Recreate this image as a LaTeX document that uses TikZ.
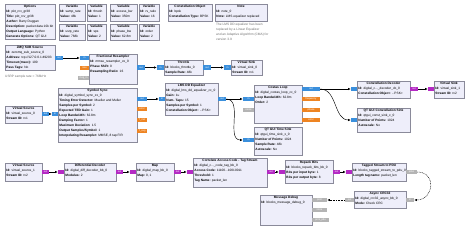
\documentclass[tikz,border=0pt]{standalone}
\usepackage{fontspec}
\setmainfont{Liberation Sans}
\usetikzlibrary{arrows.meta}
\definecolor{blkfill}{HTML}{EEEEFA}
\definecolor{blkdraw}{HTML}{8A8A9A}
\definecolor{cplx}{HTML}{3A8FDC}
\definecolor{flt}{HTML}{EE8422}
\definecolor{byt}{HTML}{B42AC4}
\definecolor{msgc}{HTML}{B4B4B4}
\definecolor{notec}{HTML}{707070}
\newcommand\blockfont{\fontsize{3.2}{5.0}\selectfont}
\newcommand\kv[2]{\textbf{#1:} #2}
\tikzset{
 blk/.style={draw=blkdraw, fill=blkfill, line width=0.5pt, inner sep=0pt},
 ttl/.style={font=\blockfont\bfseries, inner sep=0pt, anchor=north},
 bdy/.style={font=\blockfont, inner sep=0pt, anchor=north west, align=left},
 port/.style={draw=none, minimum height=4.6pt, inner sep=0pt, font=\fontsize{2.5}{3}\selectfont, text=white},
 wire/.style={-{Latex[length=2.6pt,width=2.2pt]}, line width=0.45pt, black},
 mwire/.style={wire, dash pattern=on 0.8pt off 0.8pt},
}
\newcommand\grb[7]{%
 \node[blk, minimum width=#4pt, minimum height=#5pt] (#1) at ({#2+#4/2},{#3+#5/2}) {};
 \node[ttl] (#1t) at ([yshift=-1.6pt]#1.north) {#6};
 \node[bdy] (#1b) at ([xshift=1.5pt,yshift=-1.5pt]#1.west |- #1t.south) {#7};
}
\newcommand\gp[6]{\node[port, fill=#5, minimum width=#4pt] (#1) at ({#2+#4/2},#3) {#6};}
\begin{document}
\begin{tikzpicture}[x=1pt,y=-1pt]
\useasboundingbox[fill=white] (0,0) rectangle (474,228);
% options and variables
\grb{opt}{5}{4}{50}{35}{Options}{\kv{Id}{pkt\_rcv\_gr38}\\\kv{Title}{pkt\_rcv\_gr38}\\\kv{Author}{Barry Duggan}\\\kv{Description}{packet data 10k bit}\\\kv{Output Language}{Python}\\\kv{Generate Options}{QT GUI}}
\grb{v1}{59}{4}{26}{17}{Variable}{\kv{Id}{samp\_rate}\\\kv{Value}{48k}}
\grb{v2}{87}{4}{19}{17}{Variable}{\kv{Id}{thresh}\\\kv{Value}{1}}
\grb{v3}{110}{4}{27}{17}{Variable}{\kv{Id}{excess\_bw}\\\kv{Value}{350m}}
\grb{v4}{139}{4}{20}{17}{Variable}{\kv{Id}{rs\_ratio}\\\kv{Value}{16}}
\grb{v5}{59}{24}{26}{16}{Variable}{\kv{Id}{usrp\_rate}\\\kv{Value}{768k}}
\grb{v6}{87}{24}{19}{16}{Variable}{\kv{Id}{sps}\\\kv{Value}{2}}
\grb{v7}{110}{24}{27}{16}{Variable}{\kv{Id}{phase\_bw}\\\kv{Value}{62.8m}}
\grb{v8}{139}{24}{20}{16}{Variable}{\kv{Id}{order}\\\kv{Value}{2}}
\grb{cobj}{168}{4}{44}{17}{Constellation Object}{\kv{Id}{bpsk}\\\kv{Constellation Type}{BPSK}}
\grb{note}{215}{4}{52}{17}{Note}{\kv{Id}{note\_0}\\\kv{Note}{LMS equalizer replaced}}
\node[bdy, text=notec, anchor=north west] (notetxt) at (216,23) {The LMS DD equalizer has been\\replaced by a Linear Equalizer\\and an Adaptive Algorithm (CMA) for\\version 3.9};
% top chain
\grb{zmq}{5}{45}{50}{25}{ZMQ SUB Source}{\kv{Id}{zeromq\_sub\_source\_0}\\\kv{Address}{tcp://127.0.0.1:49203}\\\kv{Timeout (msec)}{100}\\\kv{Pass Tags}{No}}
\node[bdy, text=notec, anchor=north west] (usrptxt) at (5,75) {USRP sample rate = 768kHz};
\gp{zmqo}{55}{58}{8}{cplx}{out}
\grb{fr}{89}{54}{48}{30}{Fractional Resampler}{\kv{Id}{mmse\_resampler\_xx\_0}\\\kv{Phase Shift}{0}\\\kv{Resampling Ratio}{16}}
\gp{fri}{80}{58}{9}{cplx}{in}
\gp{frr}{80}{68}{9}{flt}{rate}
\gp{frm}{78}{78}{11}{msgc}{msg\_in}
\gp{fro}{137}{67.5}{8}{cplx}{out}
\grb{thr}{164}{60}{39}{15}{Throttle}{\kv{Id}{blocks\_throttle\_0}\\\kv{Sample Rate}{48k}}
\gp{thri}{157}{67.5}{7}{cplx}{in}
\gp{thro}{203}{67.5}{8}{cplx}{out}
\grb{vsk0}{231}{60}{31}{15}{Virtual Sink}{\kv{Id}{virtual\_sink\_0}\\\kv{Stream ID}{rx1}}
\gp{vsk0i}{224}{67.5}{7}{cplx}{in}
% middle chain
\grb{vsr0}{5}{106}{37}{17}{Virtual Source}{\kv{Id}{virtual\_source\_0}\\\kv{Stream ID}{rx1}}
\gp{vsr0o}{42}{114}{7}{cplx}{out}
\grb{ss}{58}{88}{79}{54}{Symbol Sync}{\kv{Id}{digital\_symbol\_sync\_xx\_0}\\\kv{Timing Error Detector}{Mueller and Muller}\\\kv{Samples per Symbol}{2}\\\kv{Expected TED Gain}{1}\\\kv{Loop Bandwidth}{62.8m}\\\kv{Damping Factor}{1}\\\kv{Maximum Deviation}{1.5}\\\kv{Output Samples/Symbol}{1}\\\kv{Interpolating Resampler}{MMSE, 8 tap FIR}}
\gp{ssi}{52}{114}{6}{cplx}{in}
\gp{sso}{137}{99}{10}{cplx}{out}
\gp{sse}{137}{109}{10}{flt}{error}
\gp{ssti}{137}{120}{10}{flt}{T\_inst}
\gp{ssta}{137}{131}{10}{flt}{T\_avg}
\grb{lms}{165}{83}{53}{32}{LMS DD Equalizer}{\kv{Id}{digital\_lms\_dd\_equalizer\_cc\_0}\\\kv{Gain}{1u}\\\kv{Num. Taps}{15}\\\kv{Samples per Symbol}{1}\\\kv{Constellation Object}{...PSK>}}
\gp{lmsi}{159}{99}{6}{cplx}{in}
\gp{lmso}{218}{99}{8}{cplx}{out}
\grb{cl}{254}{85}{48}{38}{Costas Loop}{\kv{Id}{digital\_costas\_loop\_cc\_0}\\\kv{Loop Bandwidth}{62.8m}\\\kv{Order}{2}}
\gp{cli}{243}{99}{11}{cplx}{in}
\gp{cln}{243}{110}{11}{msgc}{noise}
\gp{clo}{302}{89}{18}{cplx}{out}
\gp{clf}{302}{99}{18}{flt}{frequency}
\gp{clp}{302}{110}{18}{flt}{phase}
\gp{cle}{302}{120}{18}{flt}{error}
\grb{ts}{254}{127}{48}{28}{QT GUI Time Sink}{\kv{Id}{qtgui\_time\_sink\_x\_0}\\\kv{Number of Points}{1024}\\\kv{Sample Rate}{48k}\\\kv{Autoscale}{No}}
\gp{tsi}{243}{140}{11}{cplx}{in}
\grb{cd}{357}{81}{53}{17}{Constellation Decoder}{\kv{Id}{digital\_c...\_decoder\_cb\_0}\\\kv{Constellation Object}{...PSK>}}
\gp{cdi}{351}{89}{6}{cplx}{}
\gp{cdo}{410}{89}{8}{byt}{out}
\grb{vsk1}{434}{81}{30}{17}{Virtual Sink}{\kv{Id}{virtual\_sink\_1}\\\kv{Stream ID}{rx2}}
\gp{vsk1i}{428}{89}{6}{byt}{}
\grb{cs}{357}{108}{53}{24}{QT GUI Constellation Sink}{\kv{Id}{qtgui\_const\_sink\_x\_0}\\\kv{Number of Points}{1024}\\\kv{Autoscale}{No}}
\gp{csi}{351}{120}{6}{cplx}{}
% bottom chain
\grb{vsr1}{5}{163}{37}{18}{Virtual Source}{\kv{Id}{virtual\_source\_1}\\\kv{Stream ID}{rx2}}
\gp{vsr1o}{42}{172}{7}{byt}{out}
\grb{dd}{64}{163}{52}{18}{Differential Decoder}{\kv{Id}{digital\_diff\_decoder\_bb\_0}\\\kv{Modulus}{2}}
\gp{ddi}{58}{172}{6}{byt}{}
\gp{ddo}{116}{172}{7}{byt}{out}
\grb{map}{136}{163}{38}{18}{Map}{\kv{Id}{digital\_map\_bb\_0}\\\kv{Map}{0, 1}}
\gp{mapi}{130}{172}{6}{byt}{}
\gp{mapo}{174}{172}{7}{byt}{out}
\grb{cac}{193}{158}{74}{29}{Correlate Access Code - Tag Stream}{\kv{Id}{digital\_c...\_code\_tag\_bb\_0}\\\kv{Access Code}{11100...10010011}\\\kv{Threshold}{1}\\\kv{Tag Name}{packet\_len}}
\gp{caci}{187}{172}{6}{byt}{}
\gp{caco}{267}{172}{8}{byt}{out}
\grb{rb}{285}{160}{48}{23}{Repack Bits}{\kv{Id}{blocks\_repack\_bits\_bb\_0}\\\kv{Bits per input byte}{1}\\\kv{Bits per output byte}{8}}
\gp{rbi}{279}{172}{6}{byt}{}
\gp{rbo}{333}{172}{7}{byt}{out}
\grb{ts2p}{352}{163}{54}{18}{Tagged Stream to PDU}{\kv{Id}{blocks\_tagged\_stream\_to\_pdu\_0}\\\kv{Length tag name}{packet\_len}}
\gp{ts2pi}{346}{172}{6}{byt}{}
\gp{ts2po}{406}{172}{11}{msgc}{pdus}
\grb{crc}{354}{191}{52}{17}{Async CRC32}{\kv{Id}{digital\_crc32\_async\_bb\_0}\\\kv{Mode}{Check CRC}}
\gp{crci}{406}{200}{8}{msgc}{in}
\gp{crco}{345}{200}{9}{msgc}{out}
\grb{dbg}{260}{195}{52}{30}{Message Debug}{\kv{Id}{blocks\_message\_debug\_0}}
\gp{dbgp}{312}{200}{15}{msgc}{print}
\gp{dbgs}{312}{210}{15}{msgc}{store}
\gp{dbgpp}{312}{220}{17}{msgc}{print\_pdu}
% connections
\draw[wire] (zmqo.east) -- (fri.west);
\draw[wire] (fro.east) -- (thri.west);
\draw[wire] (thro.east) -- (vsk0i.west);
\draw[wire] (vsr0o.east) -- (ssi.west);
\draw[wire] (sso.east) -- (lmsi.west);
\draw[wire] (lmso.east) -- (cli.west);
\draw[wire] (lmso.east) to[out=0,in=180] (tsi.west);
\draw[wire] (clo.east) -- (cdi.west);
\draw[wire] (clo.east) to[out=0,in=180] (csi.west);
\draw[wire] (cdo.east) -- (vsk1i.west);
\draw[wire] (vsr1o.east) -- (ddi.west);
\draw[wire] (ddo.east) -- (mapi.west);
\draw[wire] (mapo.east) -- (caci.west);
\draw[wire] (caco.east) -- (rbi.west);
\draw[wire] (rbo.east) -- (ts2pi.west);
\draw[mwire] (ts2po.east) to[out=0,in=0,looseness=1.8] (crci.east);
\draw[mwire] (crco.west) -- (dbgp.east);
\end{tikzpicture}
\end{document}
